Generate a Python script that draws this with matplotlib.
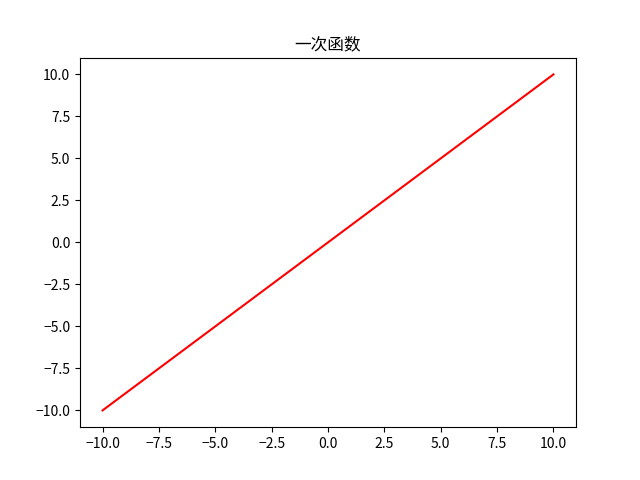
import numpy as np
import matplotlib
matplotlib.use('Agg')
import matplotlib.pyplot as plt

plt.rcParams['font.family'] = ['Noto Sans CJK SC']

# datos: recta y = x
x = [-10.0, 10.0]
y = [-10.0, 10.0]
titulo = '一次函数'

fig = plt.figure(figsize=(6.4, 4.8), dpi=100)
plt.plot(x, y, 'r-')
plt.title(titulo)
plt.savefig('out.png')
